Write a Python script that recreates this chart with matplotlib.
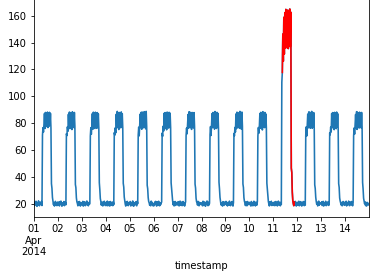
import numpy as np
import pandas as pd
import matplotlib
matplotlib.use("Agg")
import matplotlib.pyplot as plt
import matplotlib.dates as mdates
from matplotlib.ticker import FuncFormatter

# Half-hourly readings per day, 48 values each (00:00 .. 23:30)
day01 = [20.4, 18.9, 21.8, 19.6, 22.2, 20.1, 18.4, 21.0, 19.3, 22.5, 20.7, 18.8, 21.4, 19.9, 20.6, 22.0, 19.0,
         71.2, 76.8, 73.5, 79.4, 87.3, 76.2, 88.1, 77.5, 87.6, 78.3, 88.4, 76.9, 87.0, 77.8, 88.2, 78.6, 87.4, 76.5,
         35.2, 31.8, 25.0, 22.6, 19.7, 21.2, 18.6, 20.9, 22.1, 19.4, 20.3, 18.9, 21.5]
day02 = [19.5, 21.6, 20.2, 18.7, 21.9, 19.8, 22.3, 20.5, 18.5, 21.1, 19.4, 20.8, 22.0, 18.9, 20.3, 21.5, 19.6,
         72.3, 70.9, 77.4, 74.1, 86.7, 77.3, 88.4, 76.1, 88.0, 78.6, 87.0, 75.4, 88.6, 77.5, 87.2, 76.8, 88.1, 77.9,
         34.6, 32.3, 24.7, 21.8, 20.6, 18.8, 21.7, 19.5, 22.0, 20.2, 18.6, 21.3, 19.9]
day03 = [20.9, 19.1, 22.1, 18.6, 20.4, 21.8, 19.7, 18.9, 21.5, 20.0, 22.4, 19.2, 20.7, 18.8, 21.3, 19.9, 20.5,
         70.6, 76.8, 71.9, 78.5, 87.2, 75.6, 88.3, 77.0, 87.4, 76.2, 88.3, 77.7, 87.9, 76.3, 88.0, 78.2, 87.1, 76.8,
         36.0, 30.9, 24.2, 22.1, 19.3, 21.4, 20.1, 18.7, 21.9, 19.8, 22.2, 20.4, 19.0]
day04 = [21.2, 19.0, 20.6, 22.3, 18.8, 20.1, 21.7, 19.5, 18.6, 22.0, 20.3, 19.2, 21.4, 20.8, 18.9, 21.9, 19.7,
         73.1, 71.2, 76.7, 73.0, 86.8, 76.5, 88.9, 77.1, 87.6, 75.4, 88.1, 77.8, 87.3, 76.7, 88.5, 77.4, 87.2, 76.9,
         35.5, 32.7, 25.3, 22.4, 20.0, 18.6, 21.6, 19.4, 22.1, 20.7, 18.9, 21.2, 20.3]
day05 = [19.8, 22.0, 18.7, 21.3, 20.2, 19.0, 22.4, 20.6, 18.5, 21.1, 19.6, 20.9, 21.8, 19.3, 18.8, 22.2, 20.4,
         71.4, 77.2, 70.7, 78.8, 86.9, 76.8, 88.2, 75.6, 88.4, 77.2, 87.4, 76.7, 88.7, 77.2, 87.5, 75.9, 88.9, 77.5,
         34.1, 31.5, 24.9, 22.0, 21.0, 19.2, 20.5, 18.8, 22.3, 19.9, 21.4, 20.1, 18.7]
day06 = [20.3, 18.9, 21.5, 20.0, 22.1, 19.4, 18.6, 21.8, 20.7, 19.1, 22.2, 20.4, 18.8, 21.0, 19.7, 20.9, 21.6,
         72.8, 70.4, 77.9, 74.3, 87.5, 76.1, 88.0, 77.6, 87.8, 75.2, 88.4, 78.1, 87.7, 76.5, 88.2, 77.0, 87.6, 76.8,
         35.8, 31.2, 25.6, 22.5, 19.6, 21.5, 18.7, 20.8, 22.0, 19.1, 20.6, 21.3, 19.8]
day07 = [19.4, 21.9, 20.5, 18.7, 20.9, 22.3, 19.2, 20.1, 21.6, 18.9, 20.7, 22.0, 19.5, 21.2, 18.6, 20.4, 21.8,
         70.9, 76.5, 72.2, 78.9, 86.6, 76.4, 88.6, 77.0, 88.3, 76.9, 87.7, 75.5, 88.1, 77.8, 87.3, 76.6, 88.0, 77.3,
         34.9, 32.0, 24.5, 21.9, 20.8, 19.3, 22.1, 20.0, 18.8, 21.4, 19.7, 20.6, 21.1]
day08 = [21.0, 19.6, 18.8, 22.2, 20.3, 19.0, 21.7, 20.6, 18.5, 21.3, 19.9, 22.4, 20.1, 18.9, 21.5, 19.4, 20.8,
         71.7, 77.6, 71.0, 78.1, 87.2, 76.8, 88.1, 77.3, 87.9, 75.7, 88.8, 77.1, 87.9, 76.2, 88.2, 77.7, 87.4, 76.4,
         36.3, 31.4, 25.1, 22.3, 19.5, 21.1, 20.4, 18.6, 21.9, 20.2, 19.1, 21.6, 20.0]
day09 = [20.2, 22.1, 19.3, 20.8, 18.7, 21.4, 20.0, 19.2, 22.3, 20.6, 18.9, 21.0, 19.7, 22.0, 20.4, 18.6, 21.2,
         72.5, 70.8, 77.0, 73.6, 87.0, 76.0, 88.3, 76.9, 88.0, 77.4, 87.1, 76.3, 88.9, 77.5, 87.6, 75.6, 88.4, 77.7,
         35.0, 32.4, 24.8, 22.2, 20.9, 19.0, 21.7, 20.3, 18.8, 22.0, 19.6, 20.5, 21.4]
day10 = [19.7, 21.3, 20.6, 18.6, 22.0, 19.9, 21.1, 18.8, 20.5, 22.2, 19.4, 20.9, 18.7, 21.6, 20.1, 19.3, 22.1,
         70.5, 76.9, 72.7, 78.2, 87.4, 76.4, 88.2, 77.3, 87.2, 75.1, 88.7, 77.2, 87.9, 76.8, 88.1, 77.0, 87.0, 76.7,
         35.6, 31.0, 25.4, 22.0, 20.1, 18.7, 21.8, 19.5, 20.7, 22.2, 19.0, 21.0, 19.6]
# the day with the jump
day11 = [20.6, 19.1, 21.7, 18.9, 20.3, 22.0, 19.6, 21.2, 18.7, 20.8, 22.3, 19.4, 20.0, 21.5, 18.8, 20.9, 19.8,
         110.5, 117.8, 146.3, 126.1, 158.7, 131.4, 162.2, 135.8, 164.6, 137.2, 163.4, 136.0, 164.1, 135.5, 163.3,
         137.8, 164.9, 136.9, 162.5,
         46.8, 43.5, 29.0, 22.7, 20.4, 18.9, 21.6, 19.8, 22.1, 20.2, 18.6, 21.3]
day12 = [21.4, 19.2, 20.0, 22.2, 18.8, 20.7, 19.5, 21.9, 20.3, 18.6, 21.1, 19.8, 22.0, 20.5, 18.9, 21.6, 19.3,
         71.3, 77.4, 70.6, 78.0, 86.9, 76.6, 88.5, 77.2, 88.3, 76.4, 87.5, 77.8, 88.9, 76.3, 87.3, 77.1, 88.0, 76.0,
         34.4, 31.7, 25.2, 22.1, 19.9, 21.5, 18.7, 20.6, 22.3, 19.2, 20.9, 21.1, 20.2]
day13 = [20.0, 21.8, 19.0, 20.9, 22.1, 18.6, 21.2, 19.7, 20.4, 22.2, 18.9, 21.0, 19.5, 20.7, 21.9, 19.1, 20.3,
         72.9, 71.5, 77.2, 73.6, 87.3, 76.7, 88.0, 76.9, 87.5, 75.3, 88.2, 77.6, 87.8, 76.0, 88.4, 77.1, 87.2, 76.4,
         35.3, 32.5, 24.6, 22.4, 20.8, 19.4, 21.3, 18.8, 20.2, 22.0, 19.6, 21.5, 19.2]
day14 = [19.6, 20.9, 22.2, 18.7, 21.0, 19.8, 20.5, 22.3, 19.1, 18.9, 21.7, 20.2, 19.4, 22.0, 20.6, 18.8, 21.3,
         70.7, 76.6, 72.0, 78.9, 86.6, 76.2, 88.7, 75.5, 88.2, 77.8, 87.1, 76.5, 88.3, 77.8, 87.9, 76.6, 88.1, 77.2,
         36.1, 31.3, 24.4, 22.2, 20.3, 21.8, 19.0, 20.7, 18.6, 21.4, 19.9, 20.8, 19.5]

days = [day01, day02, day03, day04, day05, day06, day07,
        day08, day09, day10, day11, day12, day13, day14]

# flagged stretch (as timestamps)
anomaly_start = "2014-04-11 09:00"
anomaly_end = "2014-04-11 21:00"

values = np.concatenate(days)
index = pd.date_range("2014-04-01", periods=len(values), freq="30min")
series = pd.Series(values, index=index)
subset = series[anomaly_start:anomaly_end]

W, H = 391, 278
fig = plt.figure(figsize=(W / 72, H / 72), dpi=72)
ax = fig.add_axes([34 / W, 61 / H, 335 / W, 218 / H])

ax.plot(series.index, series.values, color="#1f77b4", lw=1.6)
ax.plot(subset.index, subset.values, color="red", lw=1.6)

ax.set_xlim(pd.Timestamp("2014-04-01 00:00"), pd.Timestamp("2014-04-14 23:55"))
ax.set_ylim(10.5, 172.3)
ax.set_yticks([20, 40, 60, 80, 100, 120, 140, 160])

ax.xaxis.set_major_locator(mdates.DayLocator())


def day_label(x, pos):
    d = mdates.num2date(x)
    if d.day == 1:
        return "01\nApr\n2014"
    return d.strftime("%d")


ax.xaxis.set_major_formatter(FuncFormatter(day_label))
ax.tick_params(labelsize=10)
ax.set_xlabel("timestamp", fontsize=10)

fig.savefig("out.png", dpi=72)
